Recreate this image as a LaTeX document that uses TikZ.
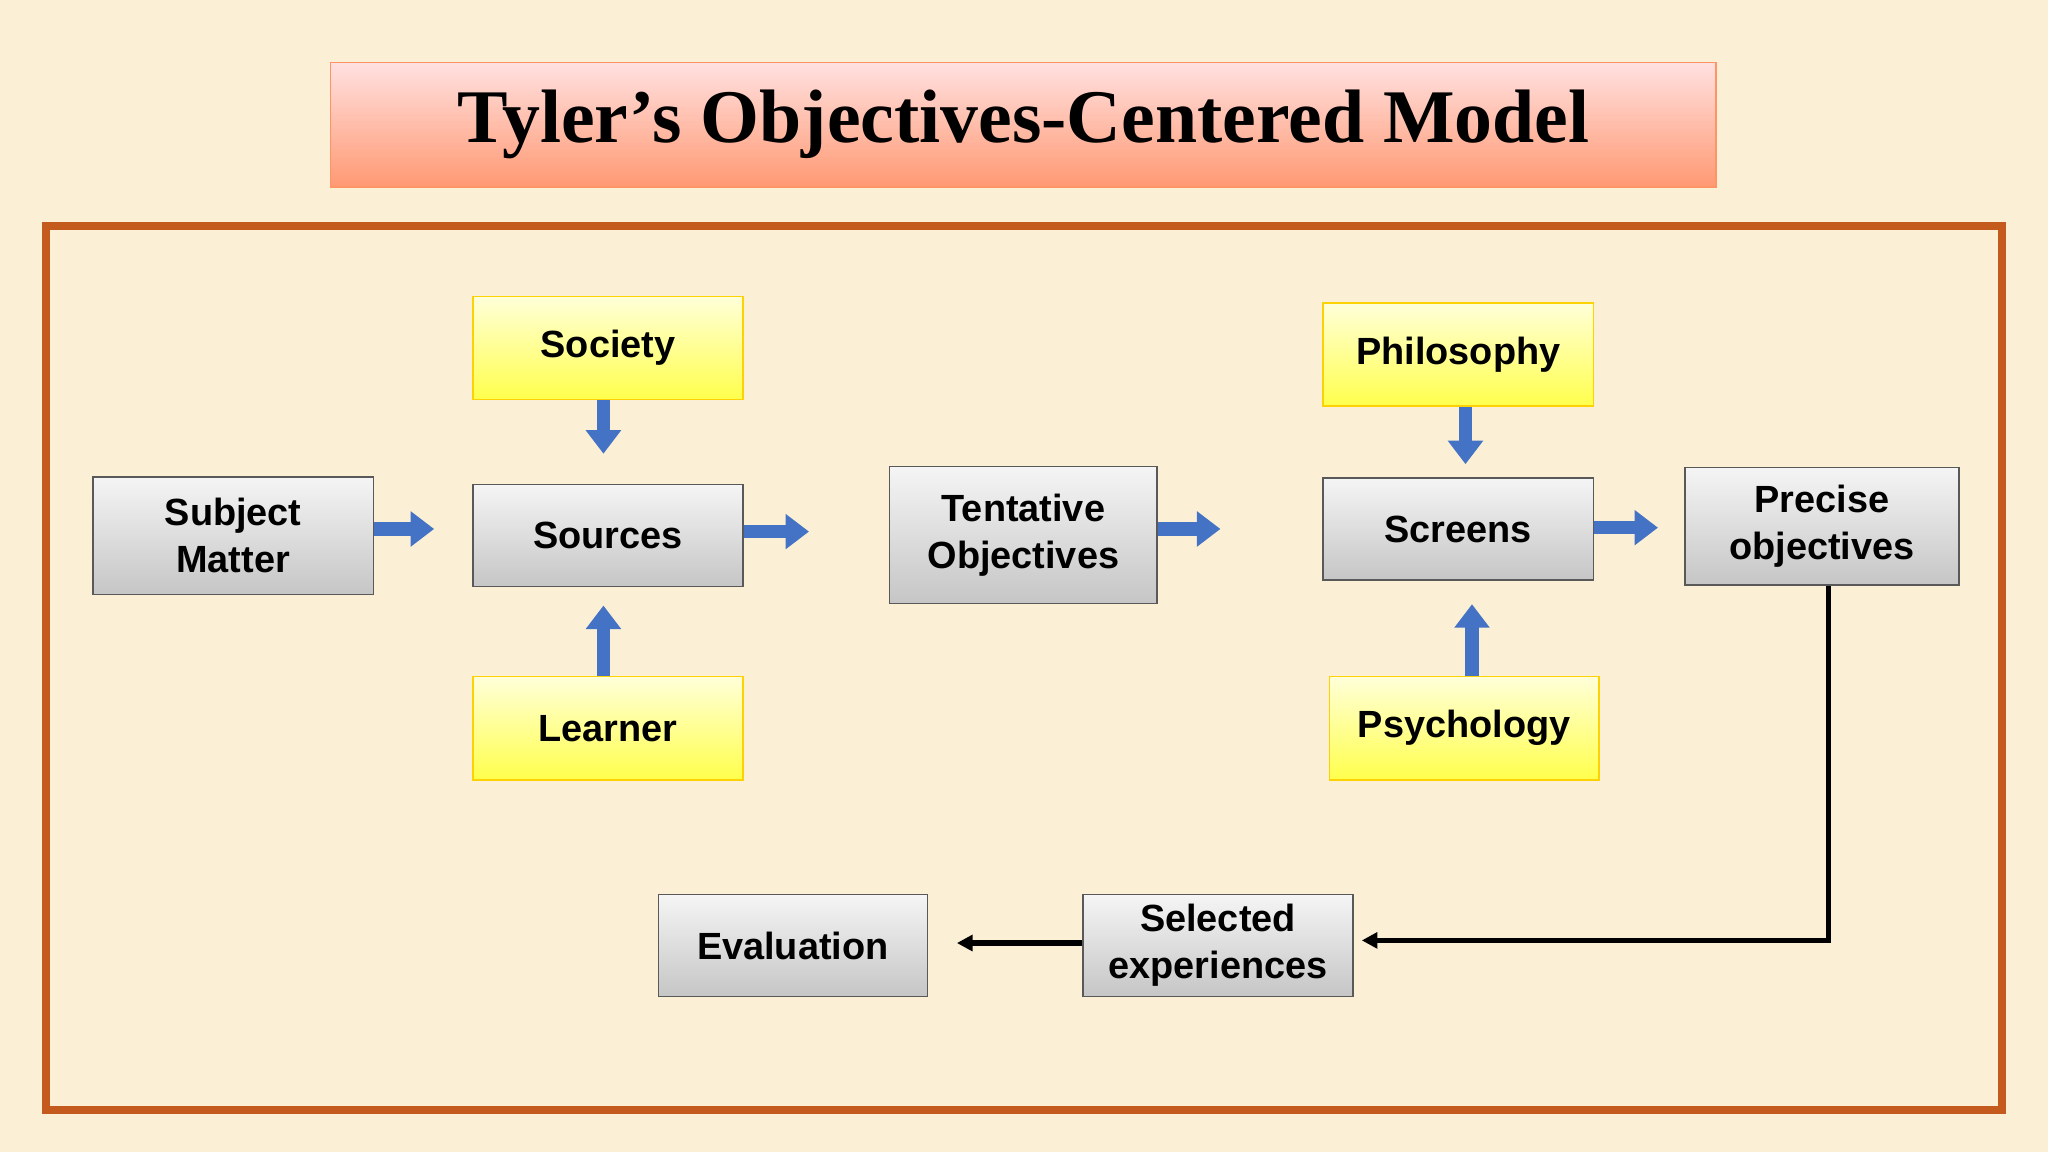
\documentclass[tikz,border=0pt]{standalone}
\usepackage{fontspec}
\setmainfont{Liberation Serif}
\setsansfont{Liberation Sans}
\usetikzlibrary{arrows.meta}
\definecolor{bg}{HTML}{FBF0D6}
\definecolor{frame}{HTML}{C55A1E}
\definecolor{barw}{HTML}{4472C4}
\begin{document}
\begin{tikzpicture}[x=0.5pt,y=-0.5pt,
  gbox/.style={draw=black!65,line width=0.6pt,top color=gray!8,bottom color=gray!45,align=center,
    font=\sffamily\bfseries\fontsize{14.5}{18}\selectfont,inner sep=0pt},
  ybox/.style={draw=yellow!70!orange,line width=0.6pt,top color=yellow!15,bottom color=yellow!70,align=center,
    font=\sffamily\bfseries\fontsize{14.5}{18}\selectfont,inner sep=0pt},
  barrow/.style={draw=barw!70!black,line width=5pt,barw,-{Triangle[length=9pt,width=13pt]}},
  karrow/.style={line width=2pt,-{Triangle[length=6pt,width=6pt]}}]
\fill[bg] (0,0) rectangle (1568,882);
\useasboundingbox (0,0) rectangle (1568,882);
\node[draw=orange!60!red!60,line width=0.6pt,top color=red!12,bottom color=orange!55!red!55,
  minimum width=530.5pt,minimum height=47.5pt,font=\bfseries\fontsize{29}{32}\selectfont]
  (title) at (783.5,95.5) {\raisebox{-2pt}{Tyler’s Objectives-Centered Model}};
\draw[frame,line width=3pt] (35,173) rectangle (1533,850);
\node[gbox,minimum width=107.5pt,minimum height=45pt] (subj) at (178.5,410) {Subject\\Matter};
\node[gbox,minimum width=103.5pt,minimum height=39pt] (src) at (465.5,410) {Sources};
\node[ybox,minimum width=103.5pt,minimum height=39.5pt] (soc) at (465.5,266.5) {Society};
\node[ybox,minimum width=103.5pt,minimum height=39.5pt] (lrn) at (465.5,557.5) {Learner};
\node[gbox,minimum width=102.5pt,minimum height=52.5pt] (tent) at (783.5,409.5) {Tentative\\Objectives};
\node[gbox,minimum width=103.5pt,minimum height=39pt] (scr) at (1116.5,405) {Screens};
\node[ybox,minimum width=103.5pt,minimum height=39.5pt] (phi) at (1116.5,271.5) {Philosophy};
\node[ybox,minimum width=103pt,minimum height=39.5pt] (psy) at (1121,557.5) {Psychology};
\node[gbox,minimum width=105pt,minimum height=45pt] (prec) at (1395,403) {Precise\\objectives};
\node[gbox,minimum width=103pt,minimum height=39pt] (eval) at (607,724) {Evaluation};
\node[gbox,minimum width=103.5pt,minimum height=39pt] (sel) at (932.5,724) {Selected\\experiences};
\draw[barrow,shorten >=14.5pt] (subj.east|-0,405) -- (src.west|-0,405);
\draw[barrow,shorten >=30.5pt] (src.east|-0,407) -- (tent.west|-0,407);
\draw[barrow,shorten >=11.5pt] (soc.south-|462,0) -- (src.north-|462,0);
\draw[barrow,shorten >=7pt] (lrn.north-|462,0) -- (src.south-|462,0);
\draw[barrow,shorten >=39pt] (tent.east|-0,405) -- (scr.west|-0,405);
\draw[barrow,shorten >=5pt] (phi.south-|1122,0) -- (scr.north-|1122,0);
\draw[barrow,shorten >=9pt] (psy.north-|1127,0) -- (scr.south-|1127,0);
\draw[barrow,shorten >=10pt] (scr.east|-0,404) -- (prec.west|-0,404);
\draw[karrow,shorten >=3pt] (prec.south-|1400,0) -- (1400,720) -- (sel.east|-0,720);
\draw[karrow,shorten >=11pt] (sel.west|-0,722) -- (eval.east|-0,722);
\end{tikzpicture}
\end{document}
